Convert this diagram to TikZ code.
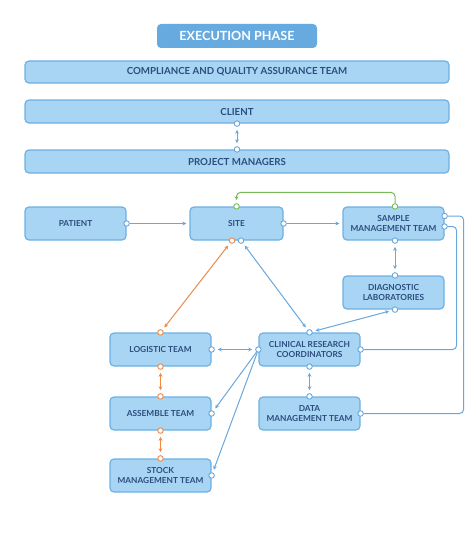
\documentclass[tikz,border=0pt]{standalone}
\usepackage{fontspec}
\setmainfont{Lato}
\usetikzlibrary{calc,arrows.meta}
\definecolor{boxfill}{HTML}{A8D5F4}
\definecolor{boxline}{HTML}{6DB0E3}
\definecolor{boxtext}{HTML}{2C4D7D}
\definecolor{headfill}{HTML}{66AADF}
\definecolor{lineblue}{HTML}{6AA7DC}
\definecolor{lineorange}{HTML}{EC8A4C}
\definecolor{linegreen}{HTML}{79BA58}

\begin{document}
\begin{tikzpicture}[x=1pt, y=-1pt, >={Stealth[length=4pt,width=4pt]}]
\tikzset{teambox/.style={draw=boxline, fill=boxfill, line width=1.2pt, rounded corners=4pt,
  text=boxtext, font=\bfseries\fontsize{8.3}{10}\selectfont, align=center,
  minimum width=101pt, minimum height=33pt, inner sep=0pt},
widebox/.style={teambox, font=\bfseries\fontsize{9.7}{11}\selectfont, minimum width=424pt, minimum height=23pt},
headbox/.style={fill=headfill, rounded corners=4pt, text=white,
  font=\bfseries\fontsize{12.6}{14}\selectfont, minimum width=160pt, minimum height=24pt},
port/.style={circle, draw=lineblue, fill=white, line width=0.9pt, inner sep=0pt, minimum size=5.5pt},
link/.style={draw=lineblue, line width=1pt},
both/.style={<->, shorten <=3pt, shorten >=3pt},
into/.style={->, shorten >=3pt}}

\useasboundingbox (0,0) rectangle (474,543);

\node (exec) [headbox] at (237, 36) {EXECUTION PHASE};
\node (qa) [widebox, minimum height=22pt] at (237, 72) {COMPLIANCE AND QUALITY ASSURANCE TEAM};
\node (client) [widebox] at (237, 111.5) {CLIENT};
\node (pm) [widebox] at (237, 161.5) {PROJECT MANAGERS};

\node (patient) [teambox] at (75.5, 223.5) {PATIENT};
\node (site) [teambox, minimum width=93pt] at (236.5, 223.5) {SITE};
\node (smt) [teambox] at (393.5, 223.5) {SAMPLE\\MANAGEMENT TEAM};
\node (diag) [teambox] at (393.5, 292.5) {DIAGNOSTIC\\LABORATORIES};
\node (logi) [teambox] at (160.5, 349.5) {LOGISTIC TEAM};
\node (crc) [teambox] at (309.5, 349.5) {CLINICAL RESEARCH\\COORDINATORS};
\node (asm) [teambox] at (160.5, 413.5) {ASSEMBLE TEAM};
\node (dmt) [teambox] at (309.5, 413.5) {DATA\\MANAGEMENT TEAM};
\node (stock) [teambox] at (160.5, 475.5) {STOCK\\MANAGEMENT TEAM};

%% Ports
\node (clientS) [port] at (client.south) {};
\node (pmN) [port] at (pm.north) {};
\node (patientE) [port] at (patient.east) {};
\node (siteE) [port] at (site.east) {};
\node (siteN) [port, draw=linegreen] at (site.north) {};
\node (smtN) [port, draw=linegreen] at ($(smt.north)+(1.5,0)$) {};
\node (siteSo) [port, draw=lineorange] at ($(site.south)+(-4.5,0)$) {};
\node (siteSb) [port] at ($(site.south)+(4.5,0)$) {};
\node (smtS) [port] at ($(smt.south)+(1.5,0)$) {};
\node (smtE1) [port] at ($(smt.east)+(0,-7.5)$) {};
\node (smtE2) [port] at ($(smt.east)+(0,3)$) {};
\node (diagN) [port] at ($(diag.north)+(1.5,0)$) {};
\node (diagS) [port] at ($(diag.south)+(1.5,0)$) {};
\node (logiN) [port, draw=lineorange] at (logi.north) {};
\node (logiS) [port, draw=lineorange] at (logi.south) {};
\node (logiE) [port] at (logi.east) {};
\node (crcN) [port] at (crc.north) {};
\node (crcW) [port] at (crc.west) {};
\node (crcE) [port] at (crc.east) {};
\node (crcS) [port] at (crc.south) {};
\node (asmN) [port, draw=lineorange] at (asm.north) {};
\node (asmS) [port, draw=lineorange] at (asm.south) {};
\node (asmE) [port] at (asm.east) {};
\node (dmtN) [port] at (dmt.north) {};
\node (dmtE) [port] at (dmt.east) {};
\node (stockN) [port, draw=lineorange] at (stock.north) {};
\node (stockE) [port] at (stock.east) {};

%% Edges
\draw [link, both] (clientS) -- (pmN);
\draw [link, into] (patientE) -- (site.west);
\draw [link, into] (siteE) -- (smt.west);
\draw [link, draw=linegreen, into, rounded corners=4pt] (smtN) -- ++(0,-14) -| (siteN);
\draw [link, draw=lineorange, both] (siteSo) -- (logiN);
\draw [link, both] (siteSb) -- (crcN);
\draw [link, both] (smtS) -- (diagN);
\draw [link, both] (crcN) -- (diagS);
\draw [link, both] (logiE) -- (crcW);
\draw [link, into] (crcW) -- (asmE);
\draw [link, into] (crcW) -- (stockE);
\draw [link, both] (crcS) -- (dmtN);
\draw [link, draw=lineorange, both] (logiS) -- (asmN);
\draw [link, draw=lineorange, both] (asmS) -- (stockN);
\draw [link, rounded corners=4pt] (smtE1) -- ++(19,0) |- (dmtE);
\draw [link, rounded corners=4pt] (smtE2) -- ++(12,0) |- (crcE);

\end{tikzpicture}
\end{document}
